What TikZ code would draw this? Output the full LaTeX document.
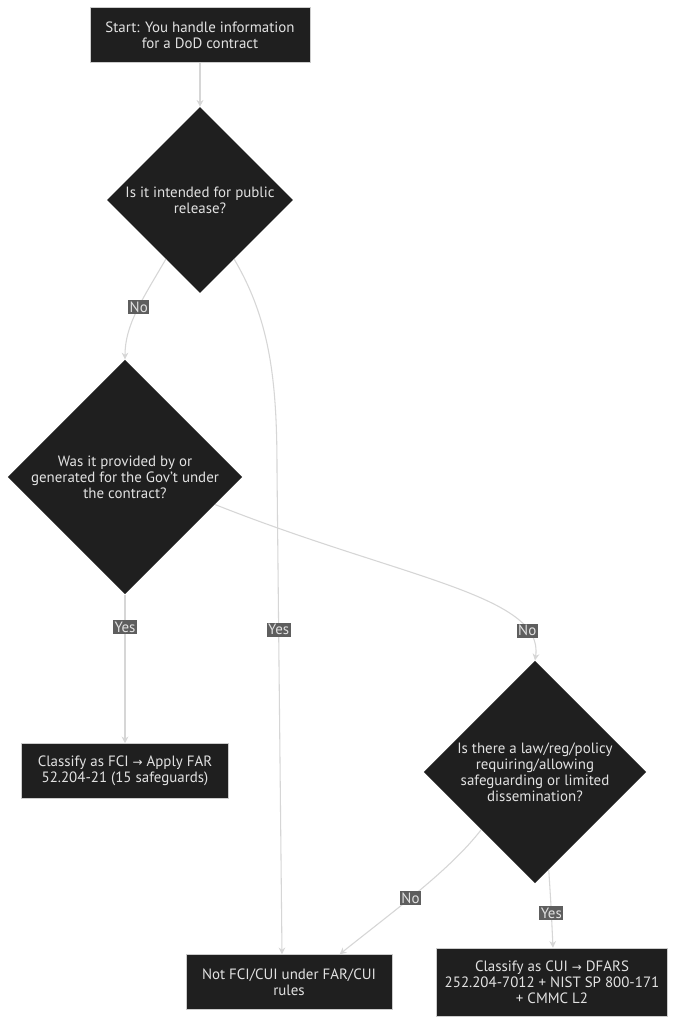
\documentclass[tikz,border=0pt]{standalone}
\usepackage{fontspec}
\setmainfont{PT Sans}
\newfontfamily\arrowfont{DejaVu Sans}
\usetikzlibrary{shapes.geometric,arrows.meta}
\definecolor{nodefill}{HTML}{1F1F1F}
\definecolor{nodeline}{HTML}{CCCCCC}
\definecolor{nodetext}{HTML}{E2E2E2}
\definecolor{edgecol}{HTML}{D6D6D6}
\definecolor{labelfill}{HTML}{5E5E5E}
\newcommand{\toarrow}{{\arrowfont\fontsize{9}{12}\selectfont →}}

\begin{document}
\begin{tikzpicture}[x=0.75pt, y=-0.75pt,
    every node/.style={font=\fontsize{11.2}{12}\selectfont, text=nodetext, align=center},
    box/.style={rectangle, draw=nodeline, line width=0.4pt, fill=nodefill, inner sep=0pt},
    decision/.style={diamond, fill=nodefill, inner sep=-1pt, aspect=1},
    flow/.style={draw=edgecol, line width=0.8pt, -{Stealth[length=5pt, width=5pt]}},
    lbl/.style={fill=labelfill, inner sep=1.2pt, text=nodetext}]
        \useasboundingbox (0,0) rectangle (676,1024);
        \fill[white] (0,0) rectangle (676,1024);
        % Nodes
        \node[box, minimum width=165pt, minimum height=41.25pt] (start) at (200,35) {Start: You handle information\\for a DoD contract};
        \node[decision, minimum size=139.5pt] (public) at (200,200) {Is it intended for public\\release?};
        \node[decision, minimum size=176pt] (govt) at (125,477) {Was it provided by or\\generated for the Gov't under\\the contract?};
        \node[decision, minimum size=167pt] (law) at (535,772) {Is there a law/reg/policy\\requiring/allowing\\safeguarding or limited\\dissemination?};
        \node[box, minimum width=155.25pt, minimum height=41.25pt] (fci) at (125,771) {Classify as FCI \toarrow{} Apply FAR\\52.204-21 (15 safeguards)};
        \node[box, minimum width=154.5pt, minimum height=41.25pt] (notfci) at (289,982) {Not FCI/CUI under FAR/CUI\\rules};
        \node[box, minimum width=173.25pt, minimum height=51pt] (cui) at (552,982) {Classify as CUI \toarrow{} DFARS\\252.204-7012 + NIST SP 800-171\\+ CMMC L2};

        % Edges
        \draw[flow] (start) -- (public);
        \draw[flow] (public.-120) .. controls (142,300) and (125,325) .. (govt.north)
            node[lbl, pos=0.45] {No};
        \draw[flow] (public.-60) .. controls (270,320) and (277,380) .. (277,470) -- ([xshift=-5.25pt]notfci.north)
            node[lbl, pos=0.33] {Yes};
        \draw[flow] (govt.south) -- (fci.north) node[lbl, pos=0.22] {Yes};
        \draw[flow] (govt.-17) .. controls (400,578) and (545,595) .. (law.north)
            node[lbl, pos=0.83] {No};
        \draw[flow] (law.-133) .. controls (450,870) and (395,910) .. ([xshift=38pt]notfci.north)
            node[lbl, pos=0.56] {No};
        \draw[flow] (law.-82) .. controls (551,905) .. ([xshift=0.75pt]cui.north)
            node[lbl, pos=0.62] {Yes};
\end{tikzpicture}
\end{document}
